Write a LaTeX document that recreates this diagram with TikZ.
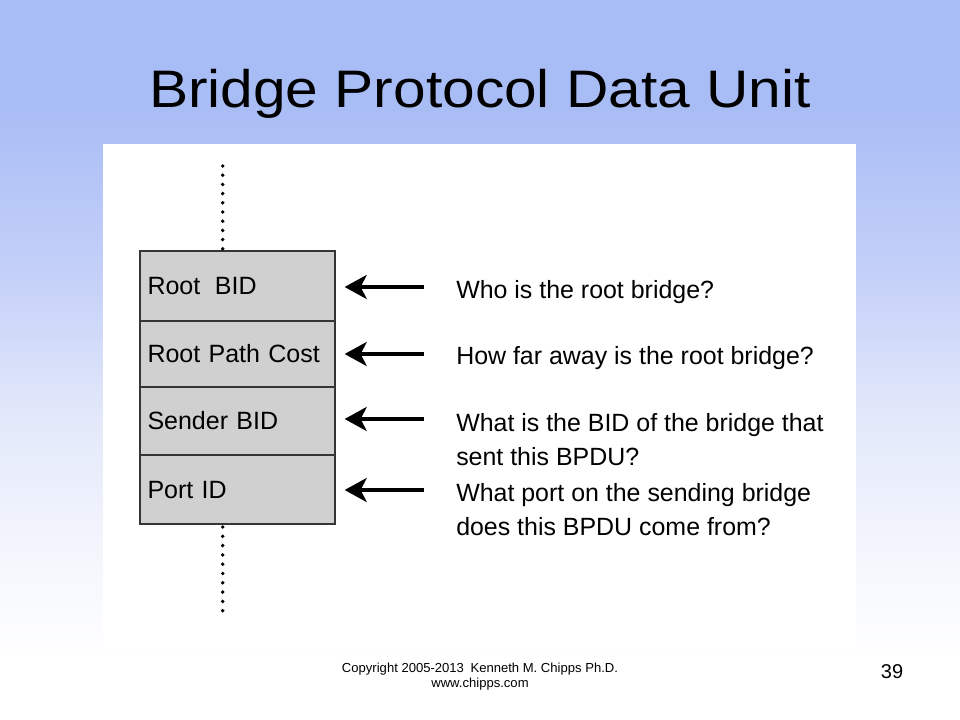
\documentclass[tikz,border=0pt]{standalone}
\usepackage{fontspec}
\setmainfont{Liberation Sans}
\usetikzlibrary{arrows.meta}
\definecolor{bgtop}{HTML}{A8BCF5}
\definecolor{bgmida}{HTML}{C4D0F8}
\definecolor{bgmidb}{HTML}{E2E8FA}
\definecolor{bgmidc}{HTML}{F4F6FD}
\definecolor{rowfill}{HTML}{D0D0D0}
\definecolor{rowline}{HTML}{353535}
\pgfdeclareverticalshading{slidebg}{100bp}{color(0bp)=(white); color(29bp)=(white); color(36.7bp)=(bgmidc); color(46.3bp)=(bgmidb); color(55.9bp)=(bgmida); color(68bp)=(bgtop); color(100bp)=(bgtop)}
\begin{document}
\begin{tikzpicture}[x=0.75pt,y=-0.75pt,
  rowbox/.style={draw=rowline, fill=rowfill, line width=1.5pt, anchor=north west,
    minimum width=146.25pt, inner xsep=5.25pt, text width=135pt, align=left,
    font=\fontsize{18.75pt}{22pt}\selectfont, text height=13.4pt, text depth=0pt},
  question/.style={font=\fontsize{18.7pt}{25.5pt}\selectfont, align=left, inner sep=0pt},
  arr/.style={-{Stealth[length=16.5pt,width=18pt,inset=4.5pt]}, line width=2.6pt, shorten >=6.5pt},
  dot/.style={fill=black}
]
\useasboundingbox (0,0) rectangle (960,720);
\shade[shading=slidebg] (0,0) rectangle (960,720);
\fill[white] (103,144) rectangle (856,647);

\node[anchor=base, inner sep=0pt, font=\fontsize{44pt}{50pt}\selectfont] (title) at (480,108) {\scalebox{1}[0.9]{Bridge Protocol Data Unit}};

% stack of fields
\node[rowbox, minimum height=52.5pt] (r1) at (139,250) {Root\hspace{0.25em} BID};
\node[rowbox, minimum height=49.5pt] (r2) at (139,320) {Root Path Cost};
\node[rowbox, minimum height=51pt]   (r3) at (139,386) {Sender BID};
\node[rowbox, minimum height=51.75pt] (r4) at (139,454) {Port ID};

% dotted continuation lines
\foreach \i in {0,...,9} {
  \fill[dot] (222.7,{166+9.2*\i}) circle (1.45pt);
  \fill[dot] (222.7,{527+9.3*\i}) circle (1.45pt);
}

% questions
\node[question, anchor=base west] (q1) at (456,298) {Who is the root bridge?};
\node[question, anchor=base west] (q2) at (456,364) {How far away is the root bridge?};
\node[question, anchor=west] (q3) at (456,440) {What is the BID of the bridge that\\sent this BPDU?};
\node[question, anchor=west] (q4) at (456,510) {What port on the sending bridge\\does this BPDU come from?};

% arrows
\coordinate (t1) at (424,287);
\coordinate (t2) at (424,354);
\coordinate (t3) at (424,419);
\coordinate (t4) at (424,490);
\draw[arr] (t1) -- (t1 -| r1.east);
\draw[arr] (t2) -- (t2 -| r2.east);
\draw[arr] (t3) -- (t3 -| r3.east);
\draw[arr] (t4) -- (t4 -| r4.east);

% footer
\node[align=center, inner sep=0pt, font=\fontsize{9.8pt}{11.25pt}\selectfont] (copy) at (480,677) {Copyright 2005-2013\hspace{0.5em}Kenneth M. Chipps Ph.D.\\www.chipps.com};
\node[anchor=base, inner sep=0pt, font=\fontsize{15pt}{18pt}\selectfont] (page) at (892,678) {39};
\end{tikzpicture}
\end{document}
